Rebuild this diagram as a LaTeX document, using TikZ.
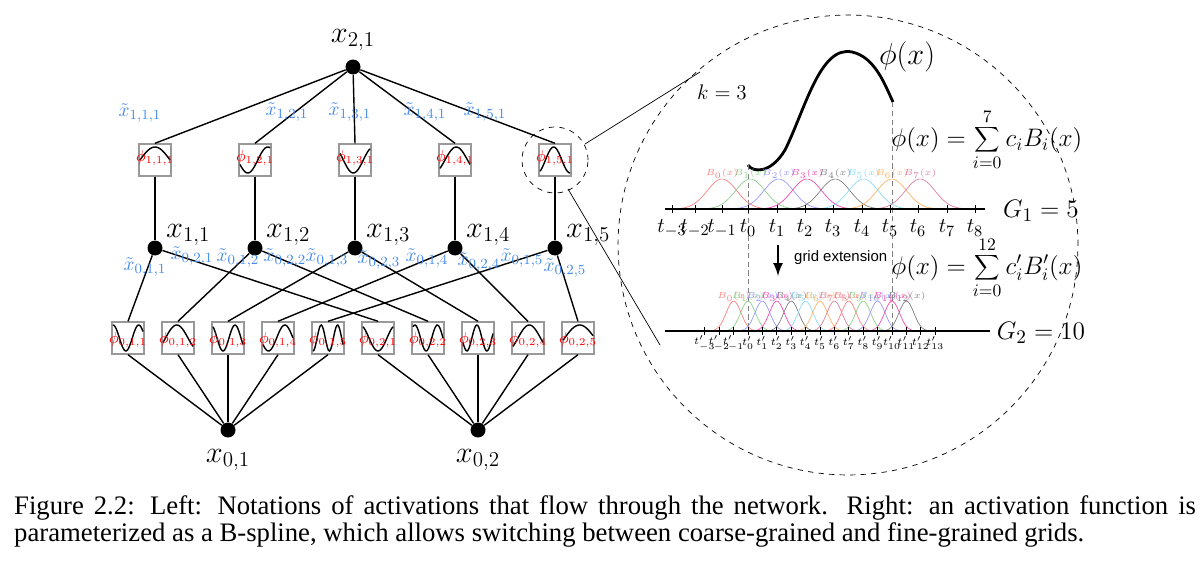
\documentclass[tikz,border=0pt]{standalone}
\usepackage{fontspec}
\setmainfont{Liberation Serif}
\newfontfamily\sansf{Liberation Sans}
\begin{document}
\begin{tikzpicture}[x=0.02cm,y=-0.02cm,
  dot/.style={circle,fill=black,inner sep=0pt,minimum size=0.3cm},
  phibox/.style={draw=black!40,thick,minimum size=0.64cm,inner sep=0pt},
  philab/.style={text=red,font=\fontsize{9}{10}\selectfont},
  xlab/.style={font=\fontsize{17}{20}\selectfont},
  elab/.style={text={rgb,255:red,70;green,140;blue,235},font=\fontsize{11}{12}\selectfont},
  edge/.style={thick},
  mini/.style={thick}]
\useasboundingbox (0,0) rectangle (1200,588);

% ---------- left network
\node[dot] (x21) at (353,67) {};
\node[xlab] at (353,40) {$x_{2,1}$};
\foreach \j/\px/\f/\p in {1/155/6/0,2/255/9/200,3/355/9/150,4/455/8/-40,5/555/11/-60}{
  \node[phibox] (t\j) at (\px,160) {};
  \draw[mini] plot[domain=-15:15,samples=25] ({\px+\x},{160-13*sin(\f*(\x+15)+\p)});
  \node[philab] at (\px,158) {$\phi_{1,\j,1}$};
  \node[dot] (m\j) at (\px,248) {};
  \node[xlab,anchor=west] at (\px+5,235) {$x_{1,\j}$};
  \draw[edge] (t\j.north) -- (x21);
  \draw[edge] (t\j.south) -- (m\j);
}
\foreach \j/\lx/\ly in {1/140/113,2/287/112,3/350/112,4/425/112,5/485/112}
  \node[elab] at (\lx,\ly) {$\tilde x_{1,\j,1}$};

\node[dot] (a1) at (228,430) {};
\node[dot] (a2) at (478,430) {};
\node[xlab] at (228,460) {$x_{0,1}$};
\node[xlab] at (478,460) {$x_{0,2}$};
\foreach \i/\j/\px/\f/\p in {1/1/128/14/90,1/2/178/8/-20,1/3/228/15/120,1/4/278/11/210,1/5/328/22/-90,
                              2/1/378/10/120,2/2/428/16/60,2/3/478/18/200,2/4/528/8/-40,2/5/578/6/-10}{
  \node[phibox] (b\i\j) at (\px,338) {};
  \draw[mini] plot[domain=-15:15,samples=30] ({\px+\x},{338-13*sin(\f*(\x+15)+\p)});
  \node[philab] at (\px,340) {$\phi_{0,\i,\j}$};
  \draw[edge] (b\i\j.north) -- (m\j);
  \draw[edge] (b\i\j.south) -- (a\i);
}
\foreach \i/\j/\lx/\ly in {1/1/145/267,2/1/192/256,1/2/238/258,2/2/285/258,1/3/327/258,
                           2/3/379/260,1/4/427/258,2/4/479/262,1/5/522/258,2/5/565/268}
  \node[elab] at (\lx,\ly) {$\tilde x_{0,\i,\j}$};

% ---------- zoom circles
\node[draw,dashed,circle,minimum size=1.32cm] (sc) at (555,160) {};
\node[draw,dashed,circle,minimum size=9.2cm] (bc) at (848,245) {};
\coordinate (p1) at (700,72);
\coordinate (p2) at (660,345);
\draw (585,144) -- (p1);
\draw (568,189) -- (p2);

% ---------- right: spline picture
\node[font=\fontsize{13}{15}\selectfont] at (722,92) {$k=3$};
\node[font=\fontsize{17}{20}\selectfont] at (907,57) {$\phi(x)$};
\draw[line width=1.6pt] (748,165) .. controls (752,172) and (770,175) .. (785,150)
  .. controls (805,110) and (820,45) .. (852,52) .. controls (875,57) and (885,85) .. (893,102);
\node[font=\fontsize{14}{17}\selectfont] at (987,140) {$\displaystyle\phi(x)=\sum_{i=0}^{7}c_iB_i(x)$};
\node[font=\fontsize{14}{17}\selectfont] at (987,268) {$\displaystyle\phi(x)=\sum_{i=0}^{12}c'_iB'_i(x)$};

\draw[densely dashed,black!50] (748,165) -- (748,331);
\draw[densely dashed,black!50] (892,102) -- (892,331);

% coarse grid
\foreach \c [count=\k from 0] in {red!50,green!60!black!45,blue!40,magenta!70,black!50,cyan!45,orange!60,purple!50}{
  \pgfmathsetmacro{\cx}{722+28.3*\k}
  \draw[\c] plot[domain={\cx-56}:{\cx+56},samples=40] (\x,{209-30*exp(-((\x-\cx)/21)^2)});
  \node[text=\c,font=\fontsize{3.5}{4}\selectfont] at (\cx,174) {$B_{\k}(x)$};
}
\draw[line width=1.2pt] (665,209) -- (985,209);
\foreach \px/\lab in {672/-3,695/-2,722/-1,748/0,777/1,805/2,833/3,862/4,890/5,918/6,947/7,975/8}{
  \draw (\px,205) -- (\px,213);
  \node[font=\fontsize{12.5}{14}\selectfont] at (\px,228) {$t_{\lab}$};
}
\node[font=\fontsize{15}{18}\selectfont] at (1041,211) {$G_1=5$};

\coordinate (ga) at (778,245);
\coordinate (gb) at (778,276);
\draw[-latex,line width=1.5pt] (ga) -- (gb);
\node[anchor=west,font=\sansf\fontsize{8.5}{10}\selectfont] at (788,258) {grid extension};

% fine grid
\foreach \c [count=\k from 0] in {red!50,green!60!black!45,blue!40,magenta!70,black!50,cyan!45,orange!60,purple!50,red!50,green!60!black!45,blue!40,magenta!70,black!50}{
  \pgfmathsetmacro{\cx}{733.6+14.4*\k}
  \draw[\c] plot[domain={\cx-29}:{\cx+29},samples=30] (\x,{331-30*exp(-((\x-\cx)/10.5)^2)});
  \node[text=\c,font=\fontsize{3}{4}\selectfont] at (\cx,297) {$B_{\k}(x)$};
}
\draw[line width=1.2pt] (665,331) -- (990,331);
\foreach \lab [count=\k from -3] in {-3,-2,-1,0,1,2,3,4,5,6,7,8,9,10,11,12,13}{
  \pgfmathsetmacro{\px}{748+14.4*\k}
  \draw (\px,327) -- (\px,335);
  \node[font=\fontsize{6.5}{8}\selectfont] at (\px,343) {$t'_{\lab}$};
}
\node[font=\fontsize{15}{18}\selectfont] at (1041,333) {$G_2=10$};

% ---------- caption
\node[anchor=west,font=\fontsize{15.2}{18}\selectfont] at (8,508)
  {\makebox[23.64cm][s]{Figure 2.2: Left: Notations of activations that flow through the network. Right: an activation function is}};
\node[anchor=west,font=\fontsize{15.2}{18}\selectfont] at (8,535)
  {parameterized as a B-spline, which allows switching between coarse-grained and fine-grained grids.};
\end{tikzpicture}
\end{document}
